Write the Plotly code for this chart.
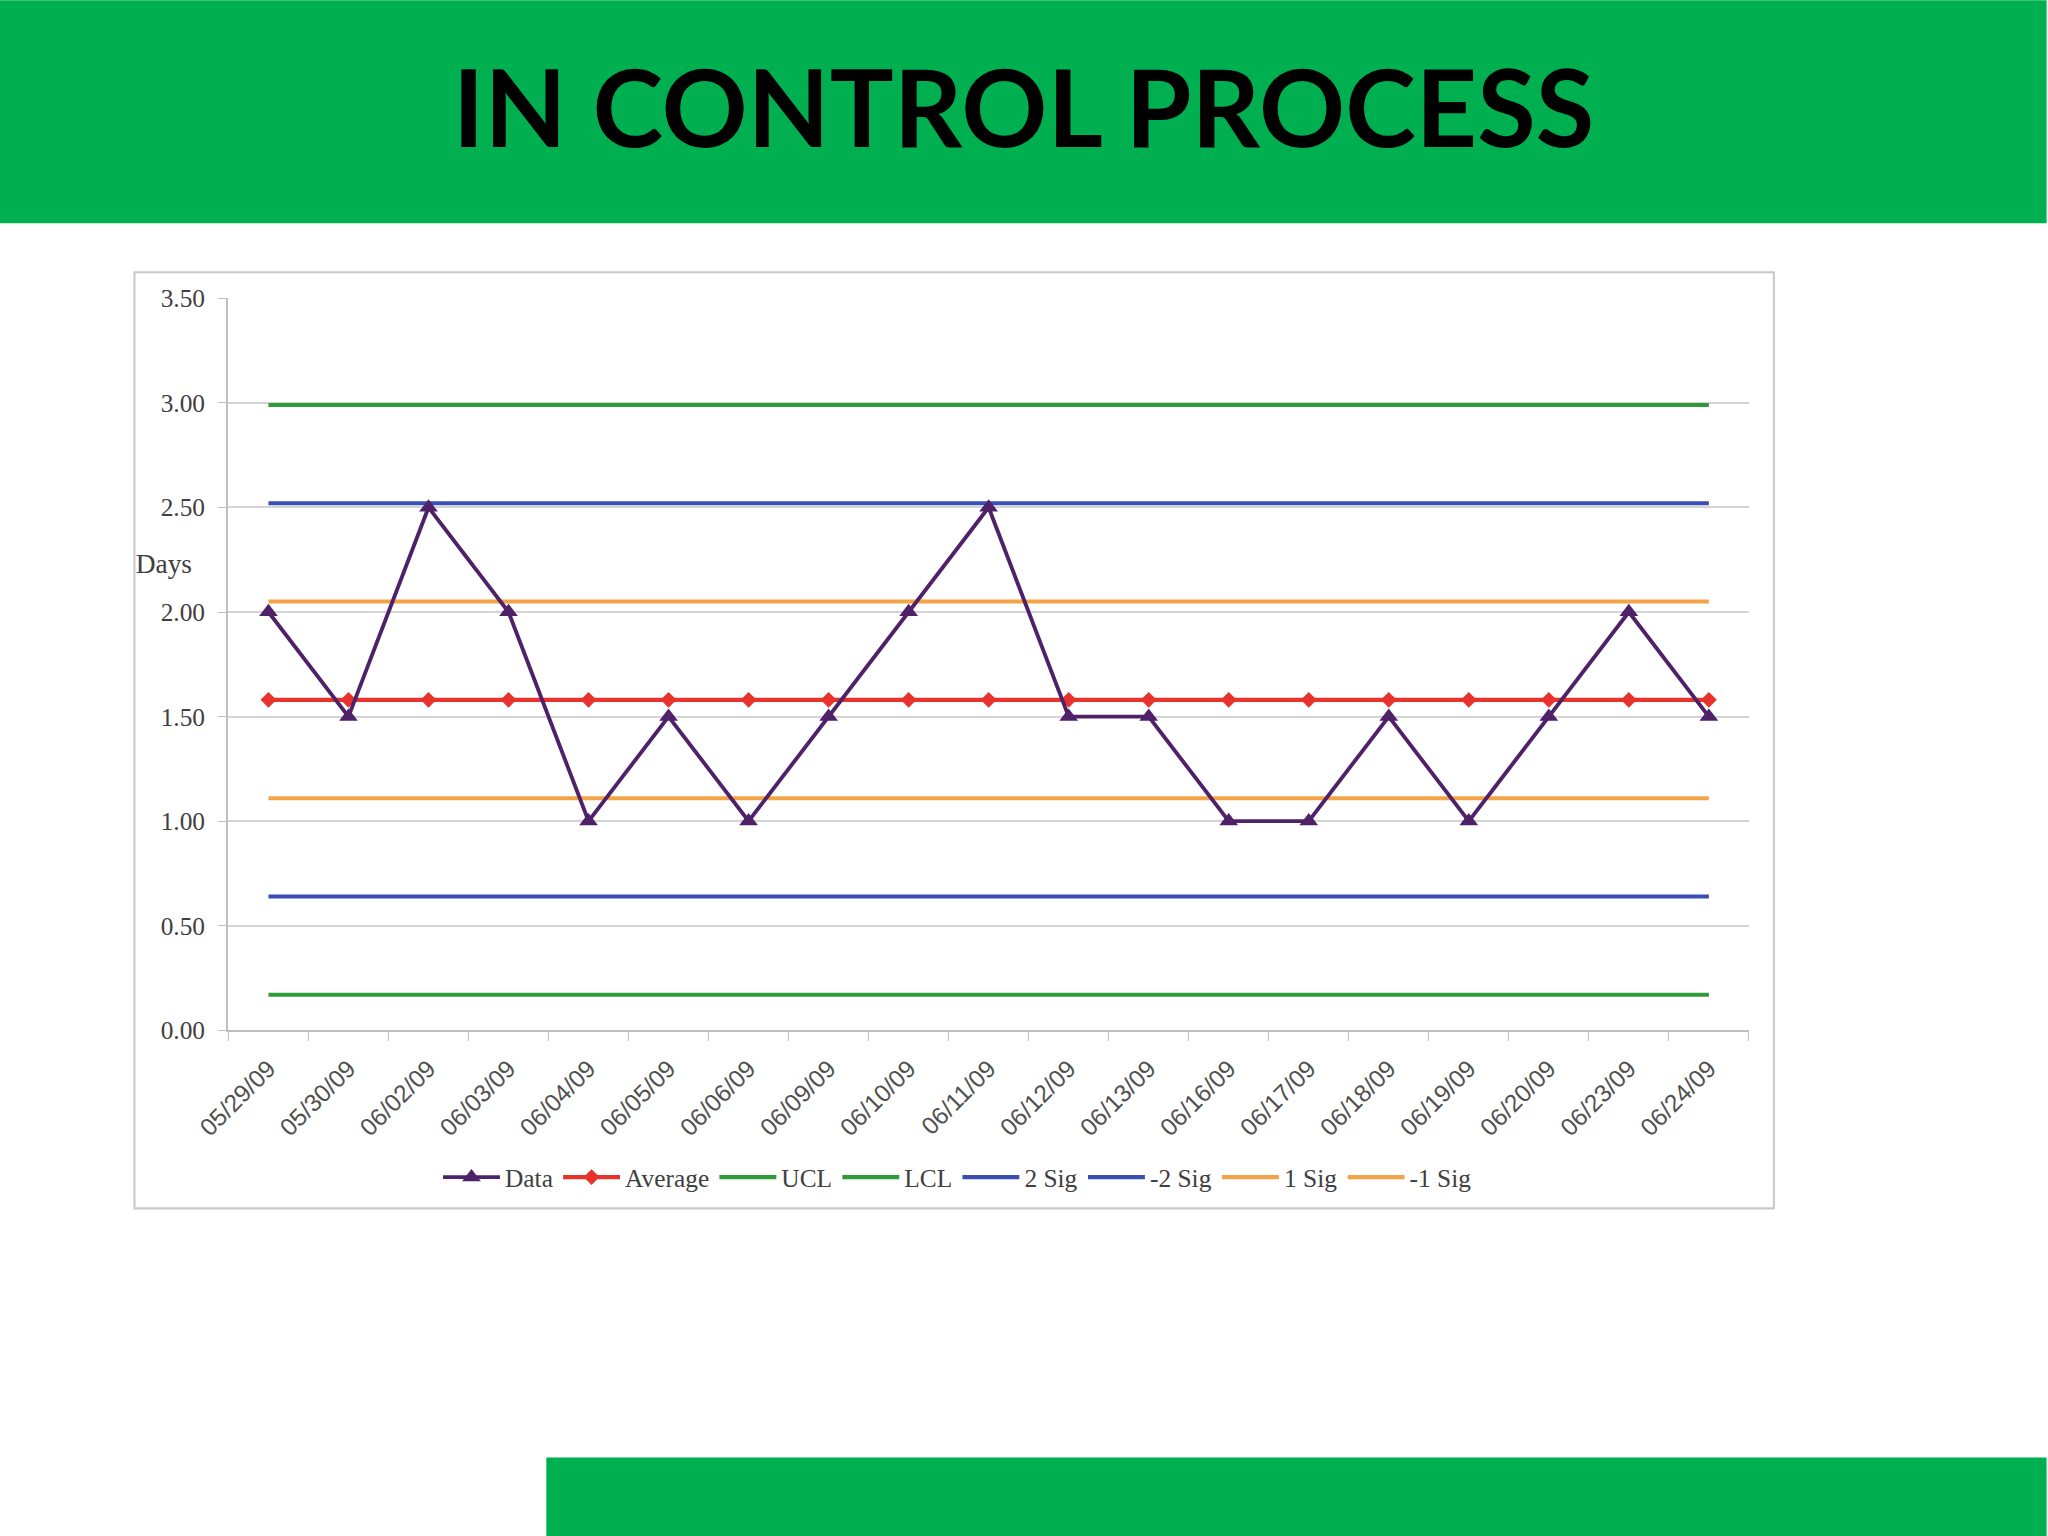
import plotly.graph_objects as go

# control chart data (days per item)
dates = ["05/29/09", "05/30/09", "06/02/09", "06/03/09", "06/04/09", "06/05/09",
         "06/06/09", "06/09/09", "06/10/09", "06/11/09", "06/12/09", "06/13/09",
         "06/16/09", "06/17/09", "06/18/09", "06/19/09", "06/20/09", "06/23/09",
         "06/24/09"]
days = [2.0, 1.5, 2.5, 2.0, 1.0, 1.5, 1.0, 1.5, 2.0, 2.5, 1.5, 1.5, 1.0, 1.0,
        1.5, 1.0, 1.5, 2.0, 1.5]

average = 1.58
ucl = 2.99
lcl = 0.17
sig2_hi = 2.52
sig2_lo = 0.64
sig1_hi = 2.05
sig1_lo = 1.11

W, H = 2048, 1536

fig = go.Figure()

# limit lines first so the data sits on top; legendrank keeps Excel's order
limits = [("UCL", ucl, "#2f9a3a", 3), ("LCL", lcl, "#2f9a3a", 4),
          ("2 Sig", sig2_hi, "#3a4fb5", 5), ("-2 Sig", sig2_lo, "#3a4fb5", 6),
          ("1 Sig", sig1_hi, "#f2a447", 7), ("-1 Sig", sig1_lo, "#f2a447", 8)]
for name, val, col, rank in limits:
    fig.add_trace(go.Scatter(x=dates, y=[val] * len(dates), name=name, mode="lines",
                             legendrank=rank, line=dict(color=col, width=4)))

fig.add_trace(go.Scatter(x=dates, y=[average] * len(dates), name="Average", mode="lines+markers",
                         legendrank=2, line=dict(color="#e8322c", width=4),
                         marker=dict(symbol="diamond", size=12, color="#e8322c")))
fig.add_trace(go.Scatter(x=dates, y=days, name="Data", mode="lines+markers",
                         legendrank=1, line=dict(color="#4e2168", width=3.8),
                         marker=dict(symbol="triangle-up", size=16, color="#4e2168")))


def px_x(p):
    return p / W


def px_y(p):
    return 1 - p / H


fig.update_layout(
    width=W, height=H,
    margin=dict(l=0, r=0, t=0, b=0),
    paper_bgcolor="white", plot_bgcolor="white",
    showlegend=True,
    legend=dict(orientation="h", x=0.468, y=px_y(1177), xanchor="center", yanchor="middle",
                font=dict(family="Liberation Serif", size=25, color="#404040"),
                itemwidth=56, bgcolor="rgba(0,0,0,0)"),
    xaxis=dict(domain=[px_x(229), px_x(1750)], type="category",
               range=[-0.5, len(dates) - 0.5],
               showline=True, linecolor="#bfbfbf", linewidth=2,
               ticks="outside", tickson="boundaries", ticklen=8, tickcolor="#bfbfbf",
               tickangle=-45, showgrid=False, ticklabelstandoff=12,
               tickfont=dict(family="Liberation Sans", size=24, color="#505050")),
    yaxis=dict(domain=[px_y(1030), px_y(298)], range=[0, 3.5], dtick=0.5,
               tickformat=".2f", showline=True, linecolor="#bfbfbf", linewidth=2,
               ticks="outside", ticklen=8, tickcolor="#bfbfbf", ticklabelstandoff=8,
               gridcolor="#d4d4d4", gridwidth=1.5, zeroline=False,
               tickfont=dict(family="Liberation Serif", size=25, color="#404040")),
)

# slide bands and chart frame
fig.add_shape(type="rect", xref="paper", yref="paper", x0=0, x1=1,
              y0=px_y(223), y1=1, fillcolor="#00b050", line_width=0, layer="below")
fig.add_shape(type="rect", xref="paper", yref="paper", x0=px_x(547), x1=1,
              y0=0, y1=px_y(1457), fillcolor="#00b050", line_width=0, layer="below")
fig.add_shape(type="rect", xref="paper", yref="paper", x0=px_x(135), x1=px_x(1775),
              y0=px_y(1208), y1=px_y(272), line=dict(color="#c8c8c8", width=2),
              fillcolor="rgba(0,0,0,0)", layer="below")

fig.add_annotation(text="<b>IN CONTROL PROCESS</b>", xref="paper", yref="paper",
                   x=0.5, y=px_y(105), xanchor="center", yanchor="middle", showarrow=False,
                   font=dict(family="Lato", size=105, color="#000000"))
fig.add_annotation(text="Days", xref="paper", yref="paper",
                   x=px_x(165), y=px_y(564), xanchor="center", yanchor="middle", showarrow=False,
                   font=dict(family="Liberation Serif", size=27, color="#404040"))

# pin the graph to the page corner
page_fix = ("document.documentElement.style.margin='0';"
            "document.body.style.margin='0';"
            "document.body.style.overflow='hidden';"
            "var d=document.getElementById('{plot_id}');"
            "d.style.position='fixed';d.style.left='0px';d.style.top='0px';"
            "d.style.transformOrigin='0 0';"
            "d.style.transform='translate(-34px,-13px) scale(1.016,1.018)';")

fig.write_html("out.html", post_script=page_fix, config={"displayModeBar": False})
